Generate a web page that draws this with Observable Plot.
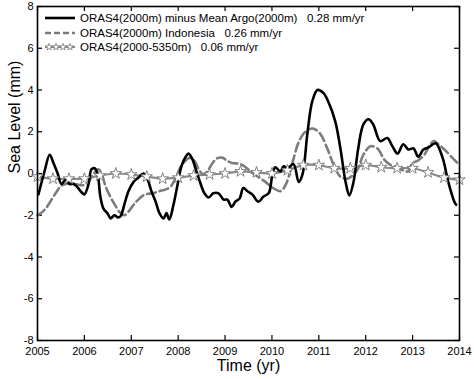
<!DOCTYPE html>
<html>
<head>
<meta charset="utf-8">
<script src="https://cdn.jsdelivr.net/npm/d3@7"></script>
<script src="https://cdn.jsdelivr.net/npm/@observablehq/plot@0.6"></script>
<style>
  html, body { margin: 0; padding: 0; background: #fff; }
  #wrap { position: relative; width: 474px; height: 379px; font-family: "Liberation Sans", Arial, Helvetica, sans-serif; }
  #legend { position: absolute; left: 44px; top: 11px; font-size: 11.5px; color: #000; }
  .row { display: flex; align-items: center; height: 14.5px; white-space: pre; }
  .row svg { margin-right: 4px; }
</style>
</head>
<body>
<div id="wrap"><div id="legend"></div></div>
<script>
// ---- data ----
const solidYears = [2005.02,2005.15,2005.26,2005.34,2005.43,2005.51,2005.6,2005.68,2005.77,2005.85,2005.94,2006.0,2006.09,2006.15,2006.22,2006.28,2006.34,2006.41,2006.49,2006.56,2006.64,2006.71,2006.77,2006.85,2006.94,2007.05,2007.15,2007.26,2007.35,2007.43,2007.52,2007.6,2007.69,2007.75,2007.81,2007.9,2007.99,2008.07,2008.16,2008.22,2008.3,2008.39,2008.48,2008.56,2008.65,2008.75,2008.86,2008.97,2009.05,2009.14,2009.22,2009.31,2009.39,2009.48,2009.58,2009.71,2009.82,2009.93,2010.01,2010.07,2010.18,2010.25,2010.33,2010.46,2010.57,2010.65,2010.76,2010.86,2010.97,2011.1,2011.2,2011.35,2011.46,2011.57,2011.65,2011.74,2011.84,2011.95,2012.06,2012.16,2012.31,2012.46,2012.57,2012.68,2012.8,2012.91,2013.02,2013.12,2013.23,2013.34,2013.49,2013.64,2013.76,2013.89,2013.93];
const solidValues = [-1.0,0.1,0.9,0.5,0.0,-0.5,-0.3,-0.5,-0.5,-0.65,-0.9,-1.0,-0.5,0.2,0.25,0.0,-1.1,-1.7,-1.9,-2.15,-2.0,-2.1,-2.05,-1.5,-0.85,-0.4,-0.2,0.0,-0.3,-0.85,-1.35,-1.9,-2.15,-1.9,-2.2,-1.5,-0.5,0.35,0.8,0.95,0.7,0.1,-0.5,-0.95,-1.15,-0.95,-0.95,-1.25,-1.25,-1.6,-1.35,-1.2,-0.7,-0.85,-1.0,-1.35,-1.1,-0.95,-0.05,0.3,0.1,0.35,0.25,0.45,-0.4,-0.05,2.0,3.45,4.0,3.85,3.45,2.5,1.2,-0.4,-1.05,-0.4,1.2,2.35,2.6,2.35,1.55,1.7,1.3,0.95,1.4,1.15,1.2,0.8,1.15,1.25,1.45,0.75,-0.4,-1.35,-1.5];

const dashYears = [2005.0,2005.1,2005.2,2005.3,2005.4,2005.5,2005.6,2005.7,2005.8,2005.9,2006.0,2006.1,2006.2,2006.3,2006.38,2006.45,2006.55,2006.65,2006.75,2006.85,2006.95,2007.05,2007.15,2007.3,2007.45,2007.6,2007.75,2007.85,2007.95,2008.05,2008.15,2008.25,2008.35,2008.45,2008.55,2008.65,2008.75,2008.85,2008.95,2009.05,2009.15,2009.33,2009.6,2009.86,2010.03,2010.18,2010.29,2010.39,2010.46,2010.57,2010.71,2010.88,2011.03,2011.18,2011.31,2011.46,2011.61,2011.74,2011.84,2011.95,2012.1,2012.25,2012.4,2012.5,2012.65,2012.8,2012.9,2013.0,2013.1,2013.25,2013.35,2013.45,2013.55,2013.7,2013.85,2013.98];
const dashValues = [-2.0,-1.85,-1.6,-1.25,-0.9,-0.6,-0.5,-0.45,-0.5,-0.55,-0.55,-0.35,0.0,0.2,-0.1,-0.6,-1.1,-1.5,-1.85,-2.0,-1.8,-1.5,-1.25,-1.0,-0.95,-0.85,-0.75,-0.6,-0.2,0.3,0.6,0.75,0.6,0.15,-0.05,0.2,0.55,0.75,0.75,0.6,0.5,0.45,0.0,-0.4,-0.7,-0.85,-0.55,0.1,0.7,1.5,2.0,2.15,1.9,1.2,0.45,-0.15,-0.25,-0.05,0.25,0.9,1.3,1.2,0.65,0.45,0.3,0.15,0.1,0.5,0.6,0.9,1.3,1.55,1.4,1.1,0.75,0.45];

const starYears = [2005.0,2005.33,2005.67,2006.0,2006.33,2006.67,2007.0,2007.33,2007.67,2008.0,2008.33,2008.67,2009.0,2009.33,2009.67,2010.0,2010.33,2010.67,2011.0,2011.33,2011.67,2012.0,2012.33,2012.67,2013.0,2013.33,2013.67,2014.0];
const starValues = [-0.15,-0.25,-0.25,-0.25,-0.1,0.0,-0.05,-0.15,-0.25,-0.2,-0.1,-0.05,0.0,0.1,0.05,0.0,0.15,0.4,0.4,0.25,0.25,0.4,0.3,0.25,0.25,0.05,-0.2,-0.3];

const xTicks = [2005,2006,2007,2008,2009,2010,2011,2012,2013,2014];
const yTicks = [-8,-6,-4,-2,0,2,4,6,8];
const xLabel = "Time (yr)";
const yLabel = "Sea Level (mm)";
const legendLabels = [
  "ORAS4(2000m) minus Mean Argo(2000m)   0.28 mm/yr",
  "ORAS4(2000m) Indonesia   0.26 mm/yr",
  "ORAS4(2000-5350m)   0.06 mm/yr"
];

// ---- build tables ----
const solid = solidYears.map((t, i) => ({t, v: solidValues[i]}));
const dash = dashYears.map((t, i) => ({t, v: dashValues[i]}));
const star = starYears.map((t, i) => ({t, v: starValues[i]}));

const W = 474, H = 379;
const mL = 37, mR = 15, mT = 6, mB = 39;
const fw = W - mL - mR, fh = H - mT - mB;
const tk = 5;
const font = '"Liberation Sans", Arial, Helvetica, sans-serif';
const grey = "#7c7c7c";

const chart = Plot.plot({
  width: W, height: H,
  marginLeft: mL, marginRight: mR, marginTop: mT, marginBottom: mB,
  style: {fontFamily: font, fontSize: "11px", color: "#000", background: "#fff"},
  x: {domain: [2005, 2014]},
  y: {domain: [-8, 8]},
  marks: [
    Plot.axisX(xTicks, {tickSize: 0, tickPadding: 7, tickFormat: d => String(d), label: null, fontSize: 11}),
    Plot.axisY(yTicks, {tickSize: 0, tickPadding: 4, tickFormat: d => String(d), label: null, fontSize: 11}),
    // inward ticks on all four sides
    Plot.tickX(xTicks, {x: d => d, insetTop: fh - tk, stroke: "#000", strokeWidth: 1.2}),
    Plot.tickX(xTicks, {x: d => d, insetBottom: fh - tk, stroke: "#000", strokeWidth: 1.2}),
    Plot.tickY(yTicks, {y: d => d, insetRight: fw - tk, stroke: "#000", strokeWidth: 1.2}),
    Plot.tickY(yTicks, {y: d => d, insetLeft: fw - tk, stroke: "#000", strokeWidth: 1.2}),
    // series
    Plot.line(star, {x: "t", y: "v", stroke: "#8a8a8a", strokeWidth: 2.2, curve: "catmull-rom"}),
    Plot.line(dash, {x: "t", y: "v", stroke: grey, strokeWidth: 2.6, strokeDasharray: "9,4", curve: "catmull-rom"}),
    Plot.line(solid, {x: "t", y: "v", stroke: "#000", strokeWidth: 2.6, curve: "catmull-rom"}),
    Plot.dot(star, {x: "t", y: "v", symbol: "star", r: 3.6, fill: "#fff", stroke: "#777", strokeWidth: 0.9}),
    Plot.frame({stroke: "#000", strokeWidth: 1.6}),
    // axis titles
    Plot.text([xLabel], {frameAnchor: "bottom", dy: 30, text: d => d, fontSize: 16, fill: "#000"}),
    Plot.text([yLabel], {frameAnchor: "left", dx: -23, rotate: -90, text: d => d, fontSize: 16, fill: "#000"})
  ]
});
document.getElementById("wrap").insertBefore(chart, document.getElementById("legend"));

// ---- legend ----
const legend = document.getElementById("legend");
const samples = [
  '<svg width="32" height="10"><line x1="1" y1="5" x2="31" y2="5" stroke="#000" stroke-width="2.6"/></svg>',
  '<svg width="32" height="10"><line x1="1" y1="5" x2="31" y2="5" stroke="' + grey + '" stroke-width="2.6" stroke-dasharray="6,3"/></svg>',
  '<svg width="32" height="10"><line x1="1" y1="5" x2="31" y2="5" stroke="#8a8a8a" stroke-width="2"/>' +
    [5, 12, 19, 26].map(cx => {
      const pts = d3.range(10).map(i => { const a = -Math.PI/2 + i*Math.PI/5; const r = i % 2 ? 1.5 : 3.6; return [cx + r*Math.cos(a), 5 + r*Math.sin(a)].join(","); }).join(" ");
      return '<polygon points="' + pts + '" fill="#fff" stroke="#777" stroke-width="0.8"/>';
    }).join("") + '</svg>'
];
legendLabels.forEach((lab, i) => {
  const row = document.createElement("div");
  row.className = "row";
  row.innerHTML = samples[i] + '<span></span>';
  row.querySelector("span").textContent = lab;
  legend.appendChild(row);
});
</script>
</body>
</html>
